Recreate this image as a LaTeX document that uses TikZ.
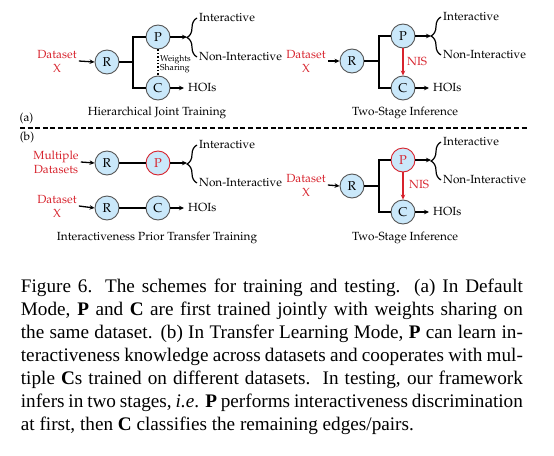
\documentclass[tikz,border=0pt]{standalone}
\usepackage[T1,TU]{fontenc}
\usepackage{fontspec}
\setmainfont{Liberation Serif}
\usetikzlibrary{arrows.meta,decorations.pathreplacing}
\newcommand\palfont{\fontencoding{T1}\fontfamily{ppl}\selectfont\fontsize{11.8}{14}\selectfont}
\newcommand\palmod{\fontencoding{T1}\fontfamily{ppl}\selectfont\fontsize{12.8}{14}\selectfont}
\newcommand\palsmall{\fontencoding{T1}\fontfamily{ppl}\selectfont\fontsize{8.6}{9.5}\selectfont}
\newcommand\capfont{\normalfont\fontsize{19.2}{23}\selectfont}
\definecolor{nodeblue}{RGB}{202,232,250}
\definecolor{figred}{RGB}{215,35,45}
\definecolor{nodeedge}{RGB}{85,85,85}
\begin{document}
\begin{tikzpicture}[x=1pt,y=-1pt,font=\palfont,
  mod/.style={circle,draw=nodeedge,fill=nodeblue,line width=0.9pt,minimum size=24pt,inner sep=0pt,font=\palmod},
  redmod/.style={mod,draw=figred,text=figred},
  conn/.style={line width=1.3pt},
  arr/.style={conn,-{Stealth[length=5pt,width=4.5pt]}},
  redarr/.style={arr,draw=figred},
  lbl/.style={inner sep=0pt,anchor=west},
  redlbl/.style={text=figred,align=center,inner sep=0pt},
  brc/.style={decorate,decoration={brace,amplitude=10pt},line width=1.2pt},
  caprow/.style={inner sep=0pt,anchor=base west,font=\capfont}]
\useasboundingbox (0,0) rectangle (554,455);

% ---------- (a) left: Hierarchical Joint Training
\node[redlbl] (dsA) at (57,61) {Dataset\\X};
\node[mod] (rA) at (107,62) {R};
\node[mod] (pA) at (158,37) {P};
\node[mod] (cA) at (158,88) {C};
\coordinate (jA) at (133,62);
\draw[arr] ([xshift=2pt]dsA.east) -- (rA.west);
\draw[conn] (rA.east) -- (jA);
\draw[conn] (pA.west) -| (jA) |- (cA.west);
\draw[line width=1.4pt,dotted] (pA) -- (cA);
\node[inner sep=0pt,anchor=west,align=left,font=\palsmall] (wsA) at (160,64) {Weights\\Sharing};
\coordinate (btA) at (187,37);
\coordinate (bbA) at (197,57);
\coordinate (buA) at (197,18);
\draw[arr] (pA.east) -- (btA);
\draw[brc] (bbA) -- (buA);
\node[lbl] (intA) at (199,18) {Interactive};
\node[lbl] (nonA) at (199,57) {Non-Interactive};
\node[lbl] (hoiA) at (188,88) {HOIs};
\draw[arr] (cA.east) -- ([xshift=-4pt]hoiA.west);
\node (tA) at (157,113) {Hierarchical Joint Training};

% ---------- (a) right: Two-Stage Inference
\node[redlbl] (dsB) at (306,61) {Dataset\\X};
\node[mod] (rB) at (352,61) {R};
\node[mod] (pB) at (403,36) {P};
\node[mod] (cB) at (403,88) {C};
\coordinate (jB) at (379,61);
\draw[arr] ([xshift=2pt]dsB.east) -- (rB.west);
\draw[conn] (rB.east) -- (jB);
\draw[conn] (pB.west) -| (jB) |- (cB.west);
\draw[redarr] (pB.south) -- (cB.north);
\node[lbl,text=figred] (nisB) at (407,62) {NIS};
\coordinate (btB) at (431,36);
\coordinate (bbB) at (441,55);
\coordinate (buB) at (441,17);
\draw[arr] (pB.east) -- (btB);
\draw[brc] (bbB) -- (buB);
\node[lbl] (intB) at (443,17) {Interactive};
\node[lbl] (nonB) at (443,55) {Non-Interactive};
\node[lbl] (hoiB) at (433,88) {HOIs};
\draw[arr] (cB.east) -- ([xshift=-4pt]hoiB.west);
\node (tB) at (405,113) {Two-Stage Inference};

% ---------- separator
\node (la) at (26.5,118) {(a)};
\coordinate (sepL) at (20,128);
\coordinate (sepR) at (527,128);
\draw[line width=1.4pt,dash pattern=on 5pt off 2.6pt] (sepL) -- (sepR);
\node (lb) at (27,137) {(b)};

% ---------- (b) left: Interactiveness Prior Transfer Training
\node[redlbl] (dsC) at (56,162) {Multiple\\Datasets};
\node[mod] (rC) at (107,163) {R};
\node[redmod] (pC) at (158,163) {P};
\draw[arr] ([xshift=2pt]dsC.east) -- (rC.west);
\draw[conn] (rC) -- (pC);
\coordinate (btC) at (187,163);
\coordinate (bbC) at (197,183);
\coordinate (buC) at (197,145);
\draw[arr] (pC.east) -- (btC);
\draw[brc] (bbC) -- (buC);
\node[lbl] (intC) at (199,145) {Interactive};
\node[lbl] (nonC) at (199,183) {Non-Interactive};

\node[redlbl] (dsD) at (57,206) {Dataset\\X};
\node[mod] (rD) at (107,208) {R};
\node[mod] (cD) at (158,208) {C};
\draw[arr] ([xshift=2pt]dsD.east) -- (rD.west);
\draw[conn] (rD) -- (cD);
\node[lbl] (hoiD) at (188,208) {HOIs};
\draw[arr] (cD.east) -- ([xshift=-4pt]hoiD.west);
\node (tC) at (157,238) {Interactiveness Prior Transfer Training};

% ---------- (b) right: Two-Stage Inference
\node[redlbl] (dsE) at (306,185) {Dataset\\X};
\node[mod] (rE) at (352,186) {R};
\node[redmod] (pE) at (403,160) {P};
\node[mod] (cE) at (403,212) {C};
\coordinate (jE) at (379,186);
\draw[arr] ([xshift=2pt]dsE.east) -- (rE.west);
\draw[conn] (rE.east) -- (jE);
\draw[conn] (pE.west) -| (jE) |- (cE.west);
\draw[redarr] (pE.south) -- (cE.north);
\node[lbl,text=figred] (nisE) at (409,185) {NIS};
\coordinate (btE) at (431,160);
\coordinate (bbE) at (441,180);
\coordinate (buE) at (441,142);
\draw[arr] (pE.east) -- (btE);
\draw[brc] (bbE) -- (buE);
\node[lbl] (intE) at (443,142) {Interactive};
\node[lbl] (nonE) at (443,180) {Non-Interactive};
\node[lbl] (hoiE) at (433,212) {HOIs};
\draw[arr] (cE.east) -- ([xshift=-4pt]hoiE.west);
\node (tE) at (405,238) {Two-Stage Inference};

% ---------- caption
\node[caprow] (cap1) at (20.7,292.7) {\makebox[502pt][s]{Figure 6. The schemes for training and testing.\ \ (a) In Default}};
\node[caprow] (cap2) at (20.7,315.6) {\makebox[502pt][s]{Mode, $\mathbf{P}$ and $\mathbf{C}$ are first trained jointly with weights sharing on}};
\node[caprow] (cap3) at (20.7,338.5) {\makebox[502pt][s]{the same dataset. (b) In Transfer Learning Mode, $\mathbf{P}$ can learn in-}};
\node[caprow] (cap4) at (20.7,361.4) {\makebox[502pt][s]{teractiveness knowledge across datasets and cooperates with mul-}};
\node[caprow] (cap5) at (20.7,384.3) {\makebox[502pt][s]{tiple $\mathbf{C}$s trained on different datasets.\ \ In testing, our framework}};
\node[caprow] (cap6) at (20.7,407.2) {\makebox[502pt][s]{infers in two stages, \textit{i.e}. $\mathbf{P}$ performs interactiveness discrimination}};
\node[caprow] (cap7) at (20.7,430.1) {at first, then $\mathbf{C}$ classifies the remaining edges/pairs.};
\end{tikzpicture}
\end{document}
